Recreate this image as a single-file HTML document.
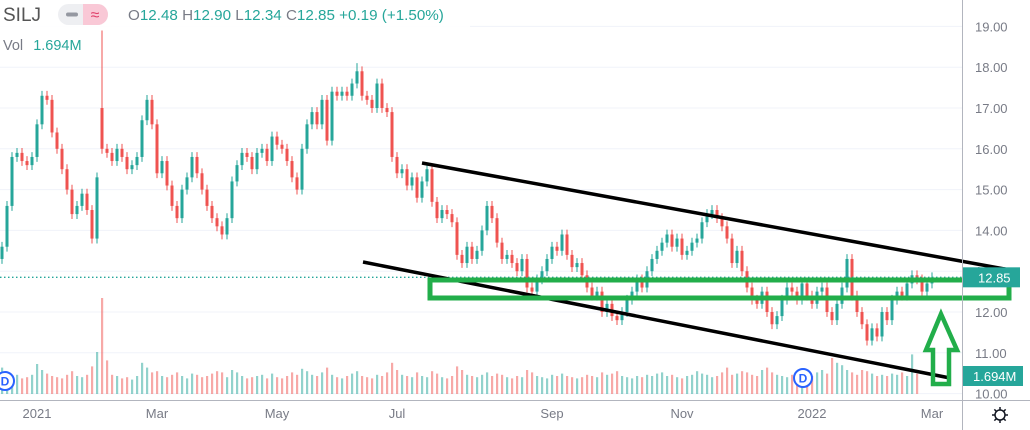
<!DOCTYPE html>
<html><head><meta charset="utf-8"><style>
body{margin:0;background:#fff;font-family:"Liberation Sans",sans-serif}
#wrap{position:relative;width:1030px;height:430px;overflow:hidden}
</style></head><body>
<div id="wrap">
<svg id="svg" width="1030" height="430" xmlns="http://www.w3.org/2000/svg"></svg>
</div>
<script>
const closes=[13.6,14.6,15.8,15.9,15.7,15.6,15.8,16.6,17.3,17.2,16.4,16.0,15.5,15.0,14.4,14.6,14.9,14.5,13.8,15.3,16.0,15.9,15.7,16.0,15.8,15.5,15.6,15.8,16.7,17.2,16.6,15.4,15.7,15.1,14.6,14.3,15.0,15.3,15.8,15.4,15.0,14.6,14.3,14.1,13.9,14.3,15.2,15.6,15.9,15.8,15.5,15.9,16.0,15.7,16.3,16.1,16.0,15.7,15.3,15.0,16.0,16.6,16.9,16.6,17.2,16.2,17.4,17.3,17.4,17.3,17.6,17.9,17.3,17.2,17.0,17.6,17.0,16.9,15.8,15.4,15.5,15.1,15.3,14.8,15.2,15.5,14.7,14.3,14.5,14.4,14.2,13.4,13.2,13.6,13.3,13.5,14.0,14.6,14.3,13.7,13.3,13.4,13.2,13.0,13.3,12.6,12.5,12.8,13.0,13.3,13.6,13.5,13.9,13.4,13.1,13.2,12.9,12.6,12.4,12.5,12.0,12.2,11.9,11.8,12.0,12.3,12.5,12.8,12.6,13.0,13.3,13.5,13.7,13.9,13.6,13.8,13.4,13.5,13.7,13.8,14.2,14.4,14.5,14.3,14.1,13.8,13.2,13.5,13.0,12.6,12.3,12.2,12.5,12.0,11.7,11.9,12.3,12.6,12.5,12.3,12.7,12.4,12.2,12.5,12.6,12.0,11.8,12.2,12.6,13.3,12.4,12.0,11.7,11.3,11.6,11.4,12.0,11.8,12.3,12.5,12.4,12.7,12.9,12.8,12.5,12.7,12.85];
const volumes=[2.2,1.8,1.5,1.6,1.3,1.4,1.6,2.5,2.0,1.7,1.5,1.4,1.3,1.6,1.9,1.5,1.4,1.6,2.3,3.5,8.0,2.8,1.6,1.5,1.3,1.4,1.2,1.5,2.6,2.2,1.8,1.9,1.5,1.4,1.6,1.8,1.5,1.3,1.7,1.6,1.4,1.5,1.7,1.9,1.8,1.4,2.0,1.8,1.5,1.3,1.4,1.5,1.6,1.3,1.7,1.4,1.3,1.5,1.8,1.6,2.1,1.9,1.6,1.5,1.8,2.2,1.6,1.4,1.3,1.5,1.7,1.9,1.5,1.4,1.3,1.6,1.5,1.8,2.6,2.0,1.6,1.5,1.4,1.8,1.5,1.4,1.9,1.7,1.4,1.3,1.5,2.3,2.0,1.6,1.5,1.4,1.6,1.8,1.5,1.7,1.6,1.4,1.3,1.5,1.4,2.0,1.8,1.5,1.4,1.3,1.6,1.5,1.7,1.5,1.4,1.3,1.4,1.6,1.5,1.4,1.8,1.6,1.7,1.9,1.5,1.4,1.3,1.5,1.4,1.6,1.5,1.7,1.8,1.5,1.6,1.4,1.3,1.5,1.6,1.9,1.7,1.6,1.4,1.5,1.8,2.2,1.6,1.7,1.9,1.8,1.6,1.5,2.0,2.2,1.8,1.6,1.5,1.4,1.6,1.5,1.4,1.6,1.5,1.8,2.0,1.7,3.0,2.6,2.4,2.0,1.8,1.6,2.0,1.9,1.7,1.5,1.6,1.5,1.7,1.6,1.8,1.5,3.3,1.69];
const highOverride={20:18.9,71:18.1};
const openOverride={20:17.0};
const priceTicks=[10,11,12,13,14,15,16,17,18,19];
const timeLabels=["2021","Mar","May","Jul","Sep","Nov","2022","Mar"];
const timeIdx=[7,31,55,79,110,136,162,186];

const NS="http://www.w3.org/2000/svg";
const svg=document.getElementById('svg');
const py=p=>312-(p-12)*40.8;
const xi=i=>2+i*5;
const vy=v=>394-v*12;
function el(t,a,parent){const e=document.createElementNS(NS,t);for(const k in a)e.setAttribute(k,a[k]);(parent||svg).appendChild(e);return e;}
function txt(x,y,s,a){const e=el('text',Object.assign({x:x,y:y},a));e.textContent=s;return e;}
function openOf(i){return openOverride[i]!==undefined?openOverride[i]:(i===0?closes[0]-0.3:closes[i-1]);}

priceTicks.forEach(p=>{
 const g=el('line',{x1:0,x2:962,y1:py(p),y2:py(p),stroke:'#f0f3fa','stroke-width':1});
 
 
 const t=txt(975,py(p)+5,p.toFixed(2),{'font-size':13,fill:'#787b86'});
 
 
});
volumes.forEach((v,i)=>{
 const up=closes[i]>=openOf(i);
 const r=el('rect',{x:xi(i)-1,y:vy(v),width:2.2,height:394-vy(v),fill:up?'rgba(38,166,154,0.5)':'rgba(239,83,80,0.5)'});
 
 
});
closes.forEach((c,i)=>{
 const o=openOf(i);
 const up=c>=o;
 const col=up?'#26a69a':'#ef5350';
 const hi=highOverride[i]!==undefined?highOverride[i]:Math.max(o,c)+0.12;
 const lo=Math.min(o,c)-0.12;
 const w=el('line',{x1:xi(i),x2:xi(i),y1:py(hi),y2:py(lo),stroke:col,'stroke-width':1});
 
 
 const top=py(Math.max(o,c)),bh=Math.max(1,py(Math.min(o,c))-top);
 const b=el('rect',{x:xi(i)-1.5,y:top,width:3,height:bh,fill:col});
 
 
});
const last=closes[closes.length-1];
const dl=el('line',{x1:0,x2:962,y1:py(last),y2:py(last),stroke:'#26a69a','stroke-width':1.3,'stroke-dasharray':'1.5 2.5'});


const t1=el('line',{x1:422,y1:163,x2:1010,y2:270,stroke:'#000','stroke-width':3.5});


const t2=el('line',{x1:363,y1:262,x2:950,y2:378,stroke:'#000','stroke-width':3.5});


const rz=el('rect',{x:430,y:280,width:579,height:18,fill:'none',stroke:'#22ae4a','stroke-width':5});


const ar=el('path',{d:'M941,314 L957,350 L949,350 L949,384 L933,384 L933,350 L926,350 Z',fill:'none',stroke:'#22ae4a','stroke-width':4.5,'stroke-linejoin':'miter'});


const ay=el('line',{x1:962.5,x2:962.5,y1:0,y2:430,stroke:'#b2b5be','stroke-width':1});


const ax=el('line',{x1:0,x2:1030,y1:400.5,y2:400.5,stroke:'#b2b5be','stroke-width':1});


timeLabels.forEach((s,i)=>{
 const t=txt(xi(timeIdx[i]),418,s,{'font-size':13,fill:'#787b86','text-anchor':'middle'});
 
 
});
const pl=el('rect',{x:963,y:py(last)-10,width:57,height:20,fill:'#26a69a'});


const plt=txt(978,py(last)+5,last.toFixed(2),{'font-size':13,fill:'#fff'});


const vb=el('rect',{x:963,y:366,width:60,height:20,fill:'#26a69a'});


const vbt=txt(973,381,'1.694M',{'font-size':13,fill:'#fff'});


[[5,381],[803,378]].forEach(p=>{
 const c=el('circle',{cx:p[0],cy:p[1],r:9,fill:'#fff',stroke:'#2962ff','stroke-width':2});
 
 
 const t=txt(p[0],p[1]+4.5,'D',{'font-size':12,fill:'#2962ff','text-anchor':'middle','font-weight':'bold'});
 
 
});
const g=el('g',{transform:'translate(1000,415)'});


el('circle',{cx:0,cy:0,r:5,fill:'none',stroke:'#131722','stroke-width':1.5},g);
for(let k=0;k<8;k++){const a=k*Math.PI/4;el('line',{x1:5*Math.cos(a),y1:5*Math.sin(a),x2:8*Math.cos(a),y2:8*Math.sin(a),stroke:'#131722','stroke-width':1.5},g);}
const hb=el('rect',{x:0,y:0,width:470,height:30,fill:'rgba(255,255,255,0.85)'});


const sym=txt(3,21,'SILJ',{'font-size':19,fill:'#555'});


const p1=el('rect',{x:58,y:4,width:50,height:21,rx:10.5,fill:'#eeeff2'});


const p2=el('path',{d:'M83,4 H97.5 A10.5,10.5 0 0 1 97.5,25 H83 Z',fill:'#f9c8d6'});


el('rect',{x:66,y:12.5,width:12,height:4,rx:2,fill:'#9598a1'});
const sq=txt(95,20,'≈',{'font-size':16,fill:'#e0406a','text-anchor':'middle'});


const ohlc=el('text',{x:128,y:20,'font-size':15.2,fill:'#26a69a'});


ohlc.innerHTML='<tspan fill="#787b86">O</tspan>12.48 <tspan fill="#787b86">H</tspan>12.90 <tspan fill="#787b86">L</tspan>12.34 <tspan fill="#787b86">C</tspan>12.85 +0.19 (+1.50%)';
const vl=el('text',{x:3,y:50,'font-size':14.5,fill:'#787b86'});


vl.innerHTML='Vol <tspan dx="6" fill="#26a69a">1.694M</tspan>';
</script>
</body></html>
